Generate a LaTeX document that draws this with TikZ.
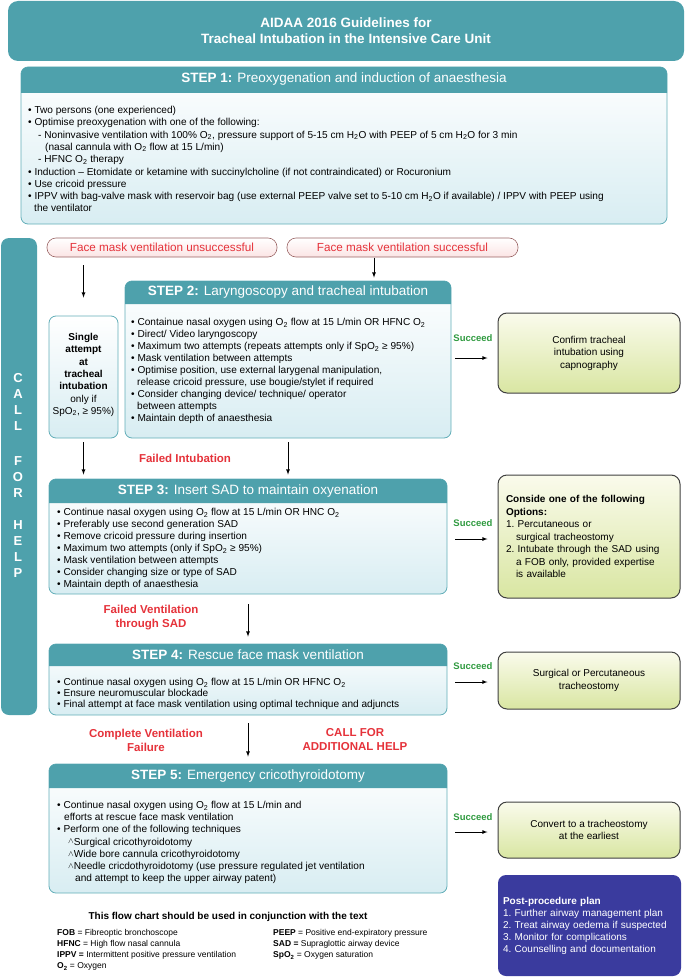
\documentclass[tikz,border=0pt]{standalone}
\usepackage{fontspec}
\setmainfont{Liberation Sans}
\usepackage{tikz}
\definecolor{headteal}{HTML}{4EA1AC}
\definecolor{bodyblue}{HTML}{D8EDF2}
\definecolor{lineteal}{HTML}{62AEB8}
\definecolor{labelred}{HTML}{E5323A}
\definecolor{pillline}{HTML}{9A6464}
\definecolor{pillpink}{HTML}{FBE4E4}
\definecolor{okgreen}{HTML}{2F9A3F}
\definecolor{greentop}{HTML}{FAFBEC}
\definecolor{greenbot}{HTML}{D9E6A2}
\definecolor{planblue}{HTML}{3A3B9E}

\begin{document}
\begin{tikzpicture}[x=1pt,y=-1pt,
    stepbody/.style={draw=lineteal,line width=0.8pt,rounded corners=7pt,top color=white,bottom color=bodyblue,inner sep=0pt},
    headtext/.style={text=white,inner sep=0pt,font=\fontsize{13.5}{16}\selectfont},
    bodytext/.style={anchor=north west,inner sep=0pt,align=left,font=\fontsize{10.1}{12.2}\selectfont},
    pill/.style={draw=pillline,line width=0.6pt,rounded corners=9pt,top color=white,bottom color=pillpink,minimum height=19pt,text=labelred,font=\fontsize{11.7}{13}\selectfont},
    redlabel/.style={text=labelred,align=center,font=\bfseries\fontsize{11.5}{14}\selectfont},
    okbox/.style={draw=black!75,line width=1pt,rounded corners=9pt,top color=greentop,bottom color=greenbot,align=center,font=\fontsize{10}{12.5}\selectfont},
    succeed/.style={text=okgreen,inner sep=0pt,font=\bfseries\fontsize{9.5}{11}\selectfont},
    arr/.style={-latex,line width=0.8pt}]
    \useasboundingbox (0,0) rectangle (685,979);

    \node[fill=headteal,rounded corners=10pt,minimum width=676pt,minimum height=60pt,text=white,align=center,font=\bfseries\fontsize{13.5}{16}\selectfont] (title) at (346,31) {AIDAA 2016 Guidelines for\\Tracheal Intubation in the Intensive Care Unit};

    \node[stepbody,minimum width=646pt,minimum height=157pt] (s1) at (344,145.5) {};
    \fill[headteal] (21,93) [rounded corners=7pt] -- (21,67) -- (667,67) [sharp corners] -- (667,93) -- cycle;
    \node[headtext] (h1) at (344,79) {\textbf{STEP 1:} Preoxygenation and induction of anaesthesia};
    \node[bodytext,font=\fontsize{10.1}{12.3}\selectfont] (b1) at (28,106) {\textbullet{} Two persons (one experienced)\\
        \textbullet{} Optimise preoxygenation with one of the following:\\
        \hspace*{10pt}- Noninvasive ventilation with 100\% O\textsubscript{2}, pressure support of 5-15 cm H\textsubscript{2}O with PEEP of 5 cm H\textsubscript{2}O for 3 min\\
        \hspace*{17pt}(nasal cannula with O\textsubscript{2} flow at 15 L/min)\\
        \hspace*{10pt}- HFNC O\textsubscript{2} therapy\\
        \textbullet{} Induction – Etomidate or ketamine with succinylcholine (if not contraindicated) or Rocuronium\\
        \textbullet{} Use cricoid pressure\\
        \textbullet{} IPPV with bag-valve mask with reservoir bag (use external PEEP valve set to 5-10 cm H\textsubscript{2}O if available) / IPPV with PEEP using\\
        \hspace*{6pt}the ventilator};

    \node[fill=headteal,rounded corners=8pt,minimum width=36pt,minimum height=477pt] (call) at (19,476.5) {};
    \node[text=white,align=center,font=\bfseries\fontsize{13}{16}\selectfont] (callt) at (18,475.5) {C\\A\\L\\L\\[19pt]F\\O\\R\\[16pt]H\\E\\L\\P};

    \node[pill,minimum width=230pt] (p1) at (162,247.5) {Face mask ventilation unsuccessful};
    \node[pill,minimum width=231pt] (p2) at (402.5,247.5) {Face mask ventilation successful};

    \node[stepbody,minimum width=69pt,minimum height=122pt] (sa) at (83.5,377) {};
    \node[align=center,font=\fontsize{10}{12.3}\selectfont] (sat) at (83.5,375) {\textbf{Single}\\\textbf{attempt}\\\textbf{at}\\\textbf{tracheal}\\\textbf{intubation}\\only if\\SpO\textsubscript{2}, ≥ 95\%)};

    \node[stepbody,minimum width=326pt,minimum height=157pt] (s2) at (288,359.5) {};
    \fill[headteal] (125,304) [rounded corners=7pt] -- (125,281) -- (451,281) [sharp corners] -- (451,304) -- cycle;
    \node[headtext] (h2) at (288,292) {\textbf{STEP 2:} Laryngoscopy and tracheal intubation};
    \node[bodytext,font=\fontsize{10.1}{12}\selectfont] (b2) at (131,318) {\textbullet{} Containue nasal oxygen using O\textsubscript{2} flow at 15 L/min OR HFNC O\textsubscript{2}\\
        \textbullet{} Direct/ Video laryngoscopy\\
        \textbullet{} Maximum two attempts (repeats attempts only if SpO\textsubscript{2} ≥ 95\%)\\
        \textbullet{} Mask ventilation between attempts\\
        \textbullet{} Optimise position, use external larygenal manipulation,\\
        \hspace*{6pt}release cricoid pressure, use bougie/stylet if required\\
        \textbullet{} Consider changing device/ technique/ operator\\
        \hspace*{6pt}between attempts\\
        \textbullet{} Maintain depth of anaesthesia};

    \node[stepbody,minimum width=398pt,minimum height=115pt] (s3) at (248,536.5) {};
    \fill[headteal] (49,503) [rounded corners=7pt] -- (49,479) -- (447,479) [sharp corners] -- (447,503) -- cycle;
    \node[headtext] (h3) at (248,491) {\textbf{STEP 3:} Insert SAD to maintain oxyenation};
    \node[bodytext,font=\fontsize{10.1}{12}\selectfont] (b3) at (57,508) {\textbullet{} Continue nasal oxygen using O\textsubscript{2} flow at 15 L/min OR HNC O\textsubscript{2}\\
        \textbullet{} Preferably use second generation SAD\\
        \textbullet{} Remove cricoid pressure during insertion\\
        \textbullet{} Maximum two attempts (only if SpO\textsubscript{2} ≥ 95\%)\\
        \textbullet{} Mask ventilation between attempts\\
        \textbullet{} Consider changing size or type of SAD\\
        \textbullet{} Maintain depth of anaesthesia};

    \node[stepbody,minimum width=398pt,minimum height=71pt] (s4) at (248,679.5) {};
    \fill[headteal] (49,666) [rounded corners=7pt] -- (49,644) -- (447,644) [sharp corners] -- (447,666) -- cycle;
    \node[headtext] (h4) at (248,655) {\textbf{STEP 4:} Rescue face mask ventilation};
    \node[bodytext,font=\fontsize{10.1}{10.8}\selectfont] (b4) at (57,678) {\textbullet{} Continue nasal oxygen using O\textsubscript{2} flow at 15 L/min OR HFNC O\textsubscript{2}\\
        \textbullet{} Ensure neuromuscular blockade\\
        \textbullet{} Final attempt at face mask ventilation using optimal technique and adjuncts};

    \node[stepbody,minimum width=398pt,minimum height=129pt] (s5) at (248,828.5) {};
    \fill[headteal] (49,788) [rounded corners=7pt] -- (49,764) -- (447,764) [sharp corners] -- (447,788) -- cycle;
    \node[headtext] (h5) at (248,776) {\textbf{STEP 5:} Emergency cricothyroidotomy};
    \node[bodytext] (b5) at (57,801) {\textbullet{} Continue nasal oxygen using O\textsubscript{2} flow at 15 L/min and\\
        \hspace*{7pt}efforts at rescue face mask ventilation\\
        \textbullet{} Perform one of the following techniques\\
        \hspace*{11pt}{\footnotesize\raisebox{0.3ex}{$\wedge$}}Surgical cricothyroidotomy\\
        \hspace*{11pt}{\footnotesize\raisebox{0.3ex}{$\wedge$}}Wide bore cannula cricothyroidotomy\\
        \hspace*{11pt}{\footnotesize\raisebox{0.3ex}{$\wedge$}}Needle cricdothyroidotomy (use pressure regulated jet ventilation\\
        \hspace*{18pt}and attempt to keep the upper airway patent)};

    \node[okbox,minimum width=182pt,minimum height=80pt] (r2) at (589,353) {Confirm tracheal\\intubation using\\capnography};
    \node[okbox,minimum width=182pt,minimum height=123pt,text width=166pt,align=left] (r3) at (589,536.5) {\textbf{Conside one of the following}\\\textbf{Options:}\\1.\ Percutaneous or\\\hspace*{10pt}surgical tracheostomy\\2.\ Intubate through the SAD using\\\hspace*{10pt}a FOB only, provided expertise\\\hspace*{10pt}is available};
    \node[okbox,minimum width=182pt,minimum height=57pt] (r4) at (589,680.5) {Surgical or Percutaneous\\tracheostomy};
    \node[okbox,minimum width=182pt,minimum height=56pt] (r5) at (589,830) {Convert to a tracheostomy\\at the earliest};
    \node[fill=planblue,rounded corners=8pt,minimum width=183pt,minimum height=101pt,text width=173pt,align=left,text=white,inner sep=0pt,font=\fontsize{10}{12}\selectfont] (plan) at (589.5,925.5) {\textbf{Post-procedure plan}\\1.\ Further airway management plan\\2.\ Treat airway oedema if suspected\\3.\ Monitor for complications\\4.\ Counselling and documentation};

    \node[succeed] (k2) at (473,338) {Succeed};
    \node[succeed] (k3) at (473,523) {Succeed};
    \node[succeed] (k4) at (473,666) {Succeed};
    \node[succeed] (k5) at (473,817) {Succeed};
    \coordinate (u2) at (455,358);
    \coordinate (u3) at (455,539);
    \coordinate (u4) at (455,682);
    \coordinate (u5) at (455,832);
    \draw[arr,shorten >=10pt] (u2) -- (r2.west |- u2);
    \draw[arr,shorten >=10pt] (u3) -- (r3.west |- u3);
    \draw[arr,shorten >=10pt] (u4) -- (r4.west |- u4);
    \draw[arr,shorten >=10pt] (u5) -- (r5.west |- u5);

    \coordinate (c2) at (374,257.5);
    \draw[arr,shorten <=8pt,shorten >=18pt] (p1.south -| sa.north) -- (sa.north);
    \draw[arr,shorten >=3pt] (c2) -- (c2 |- s2.north);
    \draw[arr,shorten <=4pt,shorten >=4pt] (sa.south) -- (sa.south |- s3.north);
    \draw[arr,shorten <=4pt,shorten >=4pt] (s2.south) -- (s2.south |- s3.north);
    \draw[arr,shorten <=10pt,shorten >=7pt] (s3.south) -- (s4.north);
    \draw[arr,shorten <=8pt,shorten >=7pt] (s4.south) -- (s5.north);

    \node[redlabel] (f2) at (185,458) {Failed Intubation};
    \node[redlabel] (f3) at (151,618) {Failed Ventilation\\through SAD};
    \node[redlabel] (f4) at (146,740) {Complete Ventilation\\Failure};
    \node[redlabel] (f5) at (355,740) {CALL FOR\\ADDITIONAL HELP};

    \node[font=\bfseries\fontsize{10}{12}\selectfont] (note) at (228,917) {This flow chart should be used in conjunction with the text};
    \node[anchor=north west,inner sep=0pt,align=left,font=\fontsize{8.5}{11}\selectfont] (ab1) at (57,929.5) {\textbf{FOB} = Fibreoptic bronchoscope\\\textbf{HFNC} = High flow nasal cannula\\\textbf{IPPV =} Intermittent positive pressure ventilation\\\textbf{O\textsubscript{2}} = Oxygen};
    \node[anchor=north west,inner sep=0pt,align=left,font=\fontsize{8.5}{11}\selectfont] (ab2) at (273,929.5) {\textbf{PEEP} = Positive end-expiratory pressure\\\textbf{SAD =} Supraglottic airway device\\\textbf{SpO\textsubscript{2}} = Oxygen saturation};
\end{tikzpicture}
\end{document}
